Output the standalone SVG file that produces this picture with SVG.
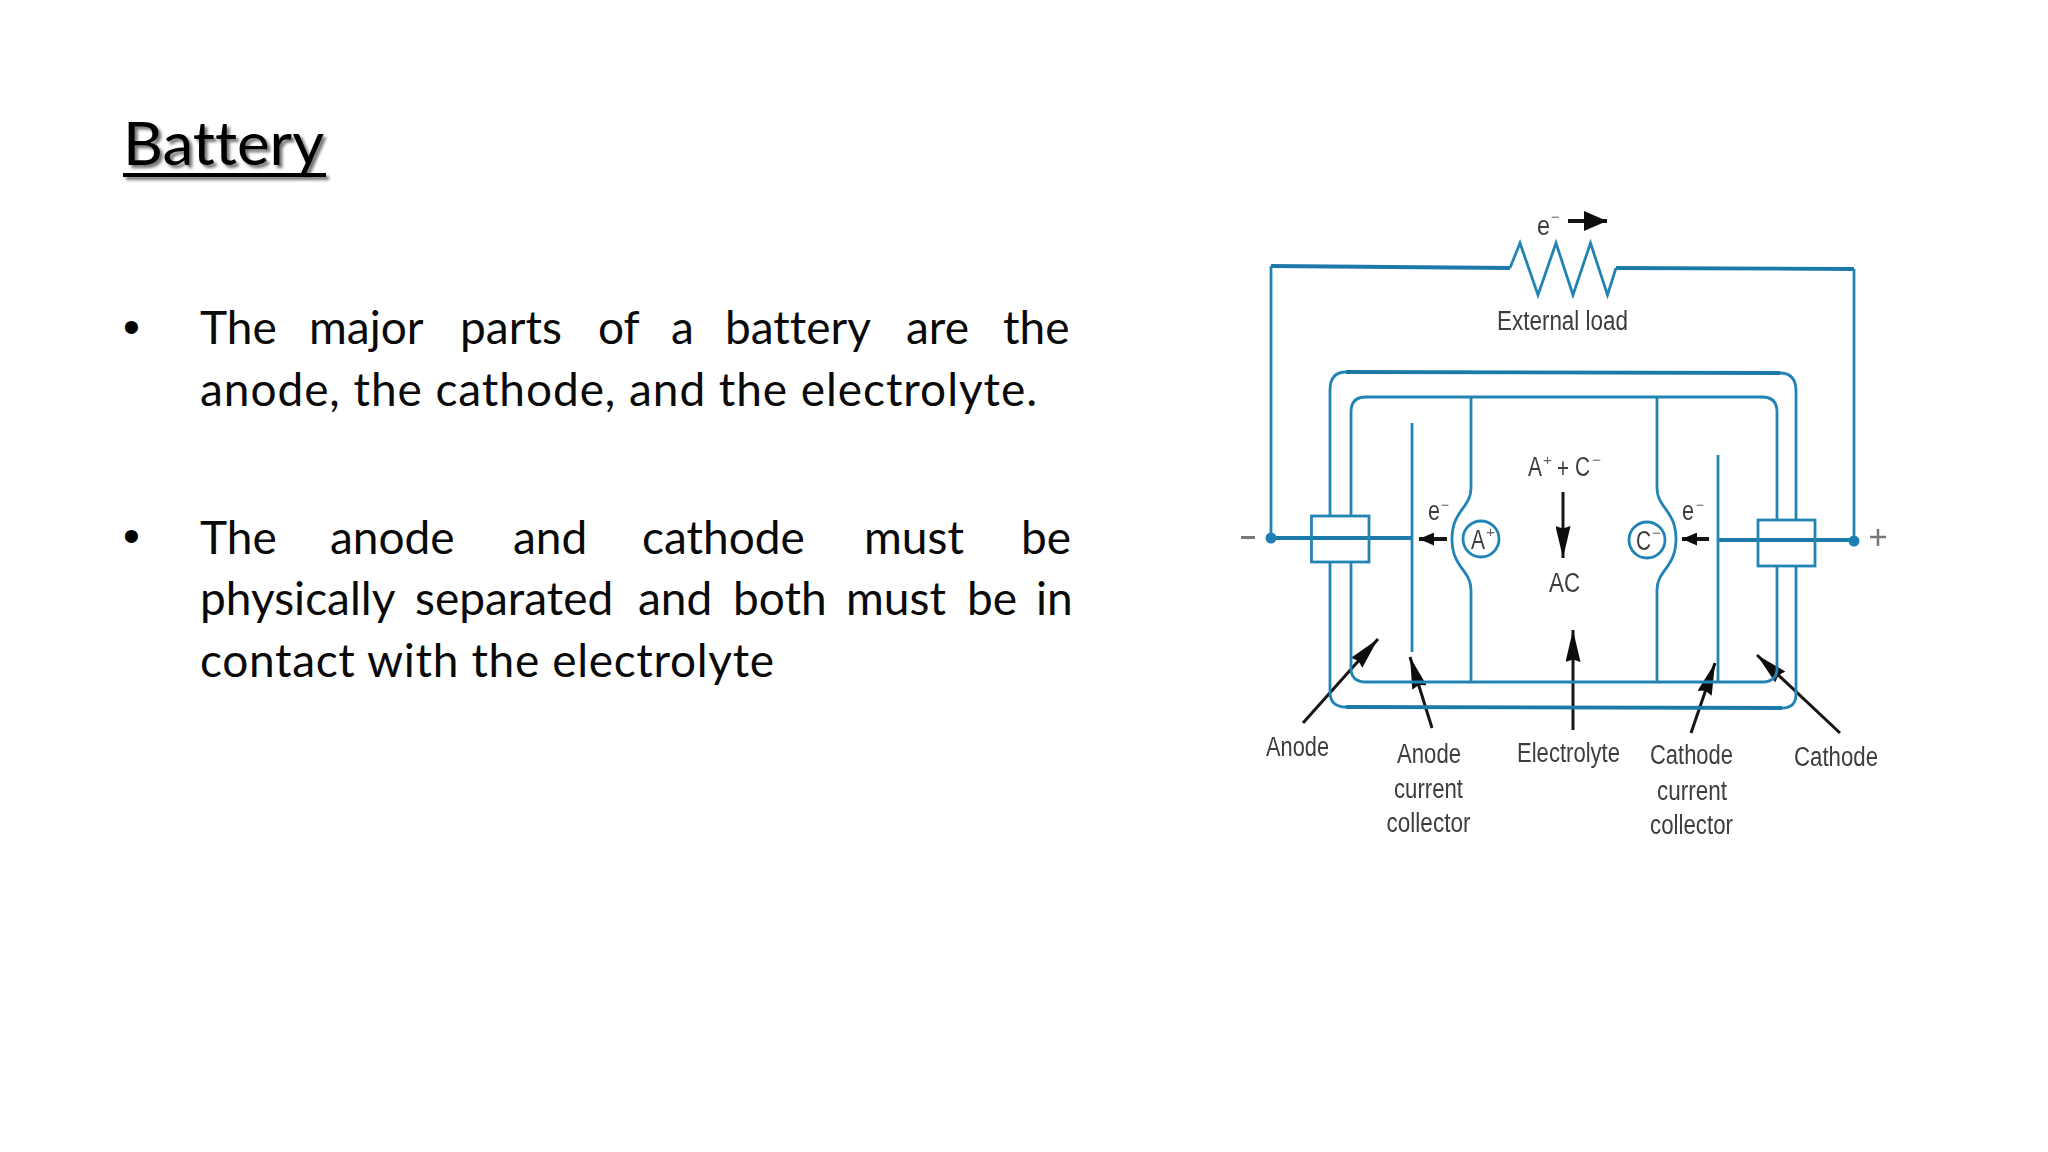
<svg xmlns="http://www.w3.org/2000/svg" width="2048" height="1152" viewBox="0 0 2048 1152">
<style>
text{font-variant-ligatures:none}
.body{font-family:"Lato","Open Sans",sans-serif;font-size:46px;fill:#0a0a0a}
.dot{font-family:"Liberation Sans",Arial,sans-serif;font-size:48px;fill:#000}
.lab{font-family:"Liberation Sans",Arial,sans-serif;font-size:27px;fill:#3c3c3c}
.sup{font-family:"Liberation Sans",Arial,sans-serif;font-size:15px;fill:#666}
.w{fill:none;stroke:#2484b5;stroke-width:2.800}
.t{fill:none;stroke:#1f7aa8;stroke-width:3.800}
.a{fill:none;stroke:#141414;stroke-width:3;marker-end:url(#head)}
.s{fill:none;stroke:#141414;stroke-width:4;marker-end:url(#small)}
</style>
<defs>
<marker id="head" viewBox="0 0 10 10" refX="10" refY="5" markerUnits="userSpaceOnUse" markerWidth="32" markerHeight="15" orient="auto" preserveAspectRatio="none"><path d="M0 0L10 5L0 10L0.800 5Z" fill="#111"/></marker>
<marker id="small" viewBox="0 0 10 10" refX="10" refY="5" markerUnits="userSpaceOnUse" markerWidth="15" markerHeight="13" orient="auto" preserveAspectRatio="none"><path d="M0 0L10 5L0 10Z" fill="#111"/></marker>
<marker id="top" viewBox="0 0 10 10" refX="10" refY="5" markerUnits="userSpaceOnUse" markerWidth="23" markerHeight="20" orient="auto" preserveAspectRatio="none"><path d="M0 0L10 5L0 10Z" fill="#111"/></marker>
<filter id="soft" x="-5%" y="-5%" width="110%" height="110%"><feGaussianBlur stdDeviation="0.7"/></filter>
<filter id="shadow" x="-10%" y="-20%" width="125%" height="150%"><feDropShadow dx="3" dy="3" stdDeviation="1.8" flood-color="#000" flood-opacity="0.55"/></filter>
</defs>
<rect width="2048" height="1152" fill="#fff"/>
<g id="title" filter="url(#shadow)">
<text x="123" y="165" font-family="Lato,'Open Sans',sans-serif" font-size="60" fill="#000" textLength="201" lengthAdjust="spacingAndGlyphs">Battery</text>
<rect x="123" y="173" width="203" height="4" fill="#000"/>
</g>
<g id="bullet-1">
<text class="dot" x="123" y="343">•</text>
<text class="body" y="344"><tspan x="200">The</tspan> <tspan x="309">major</tspan> <tspan x="460">parts</tspan> <tspan x="598">of</tspan> <tspan x="671">a</tspan> <tspan x="725">battery</tspan> <tspan x="906">are</tspan> <tspan x="1003">the</tspan></text>
<text class="body" x="200" y="406" textLength="837">anode, the cathode, and the electrolyte.</text>
</g>
<g id="bullet-2">
<text class="dot" x="123" y="552">•</text>
<text class="body" y="554"><tspan x="200">The</tspan> <tspan x="330">anode</tspan> <tspan x="513">and</tspan> <tspan x="642">cathode</tspan> <tspan x="864">must</tspan> <tspan x="1021">be</tspan></text>
<text class="body" y="615"><tspan x="200">physically</tspan> <tspan x="415">separated</tspan> <tspan x="638">and</tspan> <tspan x="733">both</tspan> <tspan x="846">must</tspan> <tspan x="967">be</tspan> <tspan x="1036">in</tspan></text>
<text class="body" x="200" y="677" textLength="574">contact with the electrolyte</text>
</g>
<g filter="url(#soft)">
<g id="connectors">
<path class="t" d="M1271 266L1510 268M1616 268L1854 269"/>
<path class="w" d="M1271 538V266M1510 268L1520 243L1538 295L1556 243L1573 295L1590.500 243L1607.500 295L1616 268M1854 269V541"/>
<path class="t" d="M1271 538H1412"/>
<path class="t" d="M1718 540H1854"/>
<path class="s" d="M1447 539H1419"/>
<path class="s" d="M1709 539H1682"/>
<path class="s" d="M1568 221H1607" style="marker-end:url(#top)"/>
<path class="a" d="M1563 492V558"/>
<path class="a" d="M1573 730V630"/>
<path class="a" d="M1303 723L1378 639"/>
<path class="a" d="M1432 728L1410 657"/>
<path class="a" d="M1691 733L1715 663"/>
<path class="a" d="M1840 733L1757 655"/>
</g>
<g id="external-load">
<text class="lab" x="1537" y="235" textLength="13" lengthAdjust="spacingAndGlyphs">e</text><text class="sup" x="1551" y="222">−</text>
<text class="lab" x="1497" y="330" textLength="131" lengthAdjust="spacingAndGlyphs">External load</text>
</g>
<g id="cell">
<path class="w" d="M1330 516V390Q1330 372 1346 372M1780 373Q1796 373 1796 391V520M1330 562V692Q1330 707 1346 707M1782 708Q1796 708 1796 694V566"/>
<path class="t" d="M1346 372L1780 373M1346 707L1782 708"/>
<path class="w" d="M1351 516V412Q1351 397 1366 397H1762Q1777 397 1777 412V520M1351 562V668Q1351 682 1366 682H1762Q1777 682 1777 668V566"/>
</g>
<g id="anode">
<rect class="w" x="1311.500" y="516" width="57.500" height="46"/>
<text class="lab" x="1266" y="756" textLength="63" lengthAdjust="spacingAndGlyphs">Anode</text>
</g>
<g id="cathode">
<rect class="w" x="1758" y="520" width="57" height="46"/>
<text class="lab" x="1794" y="766" textLength="84" lengthAdjust="spacingAndGlyphs">Cathode</text>
</g>
<g id="anode-terminal"><circle cx="1271" cy="538" r="5.500" fill="#1f80b5"/><rect x="1241" y="536" width="14" height="3" fill="#777"/></g>
<g id="cathode-terminal"><circle cx="1854" cy="541" r="5.500" fill="#1f80b5"/><path d="M1878 529V546M1870 537H1886" stroke="#777" stroke-width="2.500" fill="none"/></g>
<g id="anode-collector">
<path class="w" d="M1412 423V652"/>
<text class="lab" x="1397" y="763" textLength="64" lengthAdjust="spacingAndGlyphs">Anode</text>
<text class="lab" x="1394" y="798" textLength="69" lengthAdjust="spacingAndGlyphs">current</text>
<text class="lab" x="1386.500" y="832" textLength="84" lengthAdjust="spacingAndGlyphs">collector</text>
</g>
<g id="cathode-collector">
<path class="w" d="M1718 455V682"/>
<text class="lab" x="1650" y="764" textLength="83" lengthAdjust="spacingAndGlyphs">Cathode</text>
<text class="lab" x="1657" y="800" textLength="70" lengthAdjust="spacingAndGlyphs">current</text>
<text class="lab" x="1650" y="834" textLength="83" lengthAdjust="spacingAndGlyphs">collector</text>
</g>
<g id="anode-ion">
<path class="w" d="M1471 397V488C1471 508 1452 510 1452 539C1452 568 1471 570 1471 590V682"/>
<circle class="w" cx="1481" cy="539" r="18"/>
<text class="lab" x="1471" y="549" textLength="14" lengthAdjust="spacingAndGlyphs">A</text><text class="sup" x="1486" y="537" textLength="9" lengthAdjust="spacingAndGlyphs">+</text>
<text class="lab" x="1428" y="520" textLength="12" lengthAdjust="spacingAndGlyphs">e</text><text class="sup" x="1441" y="510" textLength="8" lengthAdjust="spacingAndGlyphs">−</text>
</g>
<g id="cathode-ion">
<path class="w" d="M1657 397V488C1657 508 1676 510 1676 539C1676 568 1657 570 1657 590V682"/>
<circle class="w" cx="1647" cy="540" r="18"/>
<text class="lab" x="1636" y="550" textLength="15" lengthAdjust="spacingAndGlyphs">C</text><text class="sup" x="1652" y="538" textLength="9" lengthAdjust="spacingAndGlyphs">−</text>
<text class="lab" x="1682" y="520" textLength="12" lengthAdjust="spacingAndGlyphs">e</text><text class="sup" x="1696" y="510" textLength="8" lengthAdjust="spacingAndGlyphs">−</text>
</g>
<g id="electrolyte">
<text class="lab" x="1528" y="476" textLength="14" lengthAdjust="spacingAndGlyphs">A</text><text class="sup" x="1543" y="465" textLength="9" lengthAdjust="spacingAndGlyphs">+</text><text class="lab" x="1557" y="477" textLength="12" lengthAdjust="spacingAndGlyphs">+</text><text class="lab" x="1575" y="476" textLength="15" lengthAdjust="spacingAndGlyphs">C</text><text class="sup" x="1592" y="465" textLength="9" lengthAdjust="spacingAndGlyphs">−</text>
<text class="lab" x="1549" y="592" textLength="31" lengthAdjust="spacingAndGlyphs">AC</text>
<text class="lab" x="1517" y="762" textLength="103" lengthAdjust="spacingAndGlyphs">Electrolyte</text>
</g>
</g>
</svg>
